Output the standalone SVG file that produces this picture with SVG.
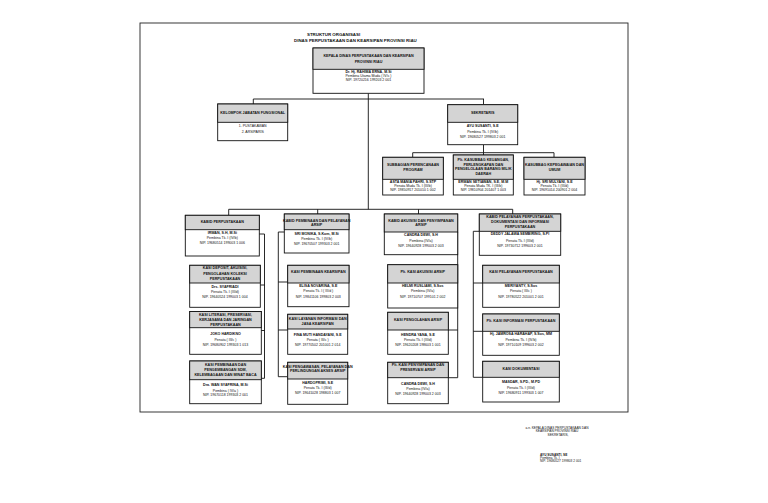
<svg xmlns="http://www.w3.org/2000/svg" width="768" height="503" viewBox="0 0 768 503">
<style>
.bg{fill:#fff}
.frame{fill:none;stroke:#222;stroke-width:0.9}
.box{fill:#fff;stroke:#111;stroke-width:0.9}
.hd{fill:#d4d4d4;stroke:#111;stroke-width:0.9}
.ln{fill:none;stroke:#111;stroke-width:0.9}
text{font-family:"Liberation Sans",Arial,sans-serif;fill:#111;text-anchor:middle}
.h{font-size:3.7px;font-weight:bold}
.n{font-size:3.6px;font-weight:bold}
.b{font-size:3.5px}
.title{font-size:4.4px;font-weight:bold;text-anchor:start}
.sig{font-size:3.2px}
.sigl{font-size:3.2px;text-anchor:start}
</style>
<rect class="bg" width="768" height="503"/>
<rect class="frame" x="140" y="23" width="488" height="389"/>
<g id="title">
<text class="title" x="307" y="35.5">STRUKTUR ORGANISASI</text>
<text class="title" x="294" y="42">DINAS PERPUSTAKAAN DAN KEARSIPAN  PROVINSI RIAU</text>
</g>
<g id="connectors">
<path class="ln" d="M368.3 93.3V209.3M253.3 99H484M253.3 99V104M483.5 99V104.7M483.5 144.7V152.7M412.7 152.7H554M412.7 152.7V157.3M483.5 152.7V155M554 152.7V157.3"/>
<path class="ln" d="M228.7 209.3H512.7M228.7 209.3V215.3M317.7 209.3V214M418.5 209.3V214M512.7 209.3V214"/>
<path class="ln" d="M256 234H264.5V378.3H258M257 285H264.5M258 330.5H264.5"/>
<path class="ln" d="M288 232H278.3V376.7H291M278.3 282H291M278.3 330H291"/>
<path class="ln" d="M454 232H457.7V377.7H445M445 330H457.7M454 283H457.7"/>
<path class="ln" d="M482.7 231.3H473.3V377.3H486M473.3 283H486M473.3 331.3H486"/>
</g>
<g id="kepala">
<rect class="box" x="313" y="48" width="111" height="45.3"/>
<rect class="hd" x="313" y="48" width="111" height="21.3"/>
<text class="h" x="368.5" y="57.4">KEPALA DINAS PERPUSTAKAAN DAN KEARSIPAN</text>
<text class="h" x="368.5" y="62.9">PROVINSI RIAU</text>
<text class="n" x="368.5" y="72.7">Dr. Hj. RAHIMA ERNA, M.Si</text>
<text class="b" x="368.5" y="77">Pembina Utama Muda ( IV/c )</text>
<text class="b" x="368.5" y="81.2">NIP. 19720216 199203 2 001</text>
</g>
<g id="kelompok">
<rect class="box" x="217.7" y="104" width="70" height="36.7"/>
<rect class="hd" x="217.7" y="104" width="70" height="18.3"/>
<text class="h" x="252.7" y="113.6">KELOMPOK JABATAN FUNGSIONAL</text>
<text class="b" x="252.7" y="127.3">1. PUSTAKAWAN</text>
<text class="b" x="252.7" y="132.6">2. ARSIPARIS</text>
</g>
<g id="sekretaris">
<rect class="box" x="447.7" y="104.7" width="70" height="40"/>
<rect class="hd" x="447.7" y="104.7" width="70" height="17.6"/>
<text class="h" x="482.7" y="113.6">SEKRETARIS</text>
<text class="n" x="482.7" y="127.3">AYU SUSANTI, S.E</text>
<text class="b" x="482.7" y="132.6">Pembina Tk. I (IV/b)</text>
<text class="b" x="482.7" y="138">NIP. 19680527 199803 2 001</text>
</g>
<g id="subbag-program">
<rect class="box" x="382.7" y="157.3" width="60.6" height="37.7"/>
<rect class="hd" x="382.7" y="157.3" width="60.6" height="22"/>
<text class="h" x="413" y="166.3">SUBBAGIAN PERENCANAAN</text>
<text class="h" x="413" y="170.6">PROGRAM</text>
<text class="n" x="413" y="182.6">ASTA MANIA PAHRI, S.STP</text>
<text class="b" x="413" y="187">Penata Muda Tk. I (III/b)</text>
<text class="b" x="413" y="191.3">NIP. 19850917 201010 1 002</text>
</g>
<g id="subbag-keuangan">
<rect class="box" x="453.3" y="155" width="60" height="40"/>
<rect class="hd" x="453.3" y="155" width="60" height="24.3"/>
<text class="h" x="483.3" y="161.3">Plt. KASUBBAG KEUANGAN,</text>
<text class="h" x="483.3" y="165.6">PERLENGKAPAN DAN</text>
<text class="h" x="483.3" y="169.8">PENGELOLAAN BARANG MILIK</text>
<text class="h" x="483.3" y="174.6">DAERAH</text>
<text class="n" x="483.3" y="182.6">ERWAN SETIAWAN, S.E, M.M</text>
<text class="b" x="483.3" y="187">Penata Muda TK. I (III/b)</text>
<text class="b" x="483.3" y="191.3">NIP. 19810904 201407 1 003</text>
</g>
<g id="subbag-umum">
<rect class="box" x="524" y="157.3" width="61" height="37.7"/>
<rect class="hd" x="524" y="157.3" width="61" height="22"/>
<text class="h" x="554.5" y="166.3">KASUBBAG KEPEGAWAIAN DAN</text>
<text class="h" x="554.5" y="170.6">UMUM</text>
<text class="n" x="554.5" y="182.6">Hj. SRI MULYANI, S.E</text>
<text class="b" x="554.5" y="187">Penata Tk. I (III/d)</text>
<text class="b" x="554.5" y="191.3">NIP. 19691014 200901 2 004</text>
</g>
<g id="kabid-perpustakaan">
<rect class="box" x="185.3" y="215.3" width="74" height="40.7"/>
<rect class="hd" x="185.3" y="215.3" width="74" height="14.4"/>
<text class="h" x="222.3" y="223.3">KABID PERPUSTAKAAN</text>
<text class="n" x="222.3" y="234.3">IRWAN, S.H, M.Si</text>
<text class="b" x="222.3" y="239">Pembina Tk. I (IV/b)</text>
<text class="b" x="222.3" y="243.6">NIP. 19680514 199003 1 006</text>
</g>
<g id="kasi-deposit">
<rect class="box" x="189.7" y="265.3" width="70.6" height="42"/>
<rect class="hd" x="189.7" y="265.3" width="70.6" height="17.7"/>
<text class="h" x="225" y="269.3">KASI DEPOSIT, AKUISISI,</text>
<text class="h" x="225" y="274.6">PENGOLAHAN KOLEKSI</text>
<text class="h" x="225" y="280">PERPUSTAKAAN</text>
<text class="n" x="225" y="288">Drs. SYAFRIADI</text>
<text class="b" x="225" y="293.3">Penata Tk. I (III/d)</text>
<text class="b" x="225" y="298.3">NIP. 19640524 199003 1 004</text>
</g>
<g id="kasi-literasi">
<rect class="box" x="189.7" y="311.5" width="71.6" height="42.8"/>
<rect class="hd" x="189.7" y="311.5" width="71.6" height="16.2"/>
<text class="h" x="225.5" y="316">KASI LITERASI, PRESERVASI,</text>
<text class="h" x="225.5" y="321.3">KERJASAMA DAN JARINGAN</text>
<text class="h" x="225.5" y="326.3">PERPUSTAKAAN</text>
<text class="n" x="225.5" y="335">JOKO HARDIKNO</text>
<text class="b" x="225.5" y="340.6">Penata ( III/c )</text>
<text class="b" x="225.5" y="345.6">NIP. 19680902 199303 1 013</text>
</g>
<g id="kasi-pembinaan-sdm">
<rect class="box" x="189.7" y="361" width="71.6" height="42.7"/>
<rect class="hd" x="189.7" y="361" width="71.6" height="18.7"/>
<text class="h" x="225.5" y="365.6">KASI PEMBINAAN DAN</text>
<text class="h" x="225.5" y="371.3">PENGEMBANGAN SDM,</text>
<text class="h" x="225.5" y="376.3">KELEMBAGAAN DAN MINAT BACA</text>
<text class="n" x="225.5" y="386.3">Dra. WAN SYAFRINA, M.Si</text>
<text class="b" x="225.5" y="391.6">Pembina ( IV/a )</text>
<text class="b" x="225.5" y="396.3">NIP. 19670118 199303 2 001</text>
</g>
<g id="kabid-arsip">
<rect class="box" x="284.3" y="214" width="64.7" height="39"/>
<rect class="hd" x="284.3" y="214" width="64.7" height="15.7"/>
<text class="h" x="316.7" y="221.6">KABID PEMBINAAN DAN PELAYANAN</text>
<text class="h" x="316.7" y="226">ARSIP</text>
<text class="n" x="316.7" y="235">SRI MONIKA, S.Kom, M.Si</text>
<text class="b" x="316.7" y="240">Pembina Tk. I (IV/b)</text>
<text class="b" x="316.7" y="245">NIP. 19670507 199303 2 001</text>
</g>
<g id="kasi-pembinaan-kearsipan">
<rect class="box" x="287.7" y="265.3" width="61.3" height="41.4"/>
<rect class="hd" x="287.7" y="265.3" width="61.3" height="17.7"/>
<text class="h" x="318.3" y="272.6">KASI PEMBINAAN KEARSIPAN</text>
<text class="n" x="318.3" y="287.3">ELISA NOVARINA, S.E</text>
<text class="b" x="318.3" y="292.3">Penata Tk. I ( III/d )</text>
<text class="b" x="318.3" y="297.6">NIP. 19841106 199803 2 003</text>
</g>
<g id="kasi-layanan-informasi">
<rect class="box" x="287.7" y="314.3" width="60" height="40"/>
<rect class="hd" x="287.7" y="314.3" width="60" height="14.7"/>
<text class="h" x="317.7" y="319.6">KASI LAYANAN INFORMASI DAN</text>
<text class="h" x="317.7" y="324.6">JASA KEARSIPAN</text>
<text class="n" x="317.7" y="335.6">FINA MUTI HANDAYANI, S.E</text>
<text class="b" x="317.7" y="340.6">Penata ( III/c )</text>
<text class="b" x="317.7" y="345.6">NIP. 19770502 201001 2 014</text>
</g>
<g id="kasi-perlindungan">
<rect class="box" x="287.7" y="362.3" width="60" height="42"/>
<rect class="hd" x="287.7" y="362.3" width="60" height="16.7"/>
<text class="h" x="317.7" y="367.5">KASI PENGAWASAN, PELAYANAN DAN</text>
<text class="h" x="317.7" y="372.3">PERLINDUNGAN AKSES ARSIP</text>
<text class="n" x="317.7" y="383.8">HARDOPRIMI, S.E</text>
<text class="b" x="317.7" y="388.8">Penata Tk. I (III/d)</text>
<text class="b" x="317.7" y="393.8">NIP. 19641028 198803 1 007</text>
</g>
<g id="kabid-akuisisi">
<rect class="box" x="384.3" y="214" width="73.4" height="40.7"/>
<rect class="hd" x="384.3" y="214" width="73.4" height="18"/>
<text class="h" x="421" y="221.6">KABID AKUISISI DAN PENYIMPANAN</text>
<text class="h" x="421" y="226">ARSIP</text>
<text class="n" x="421" y="236.3">CANDRA DEWI, S.H</text>
<text class="b" x="421" y="241.6">Pembina (IV/a)</text>
<text class="b" x="421" y="246.8">NIP. 19640928 199003 2 003</text>
</g>
<g id="kasi-akuisisi">
<rect class="box" x="387.7" y="264.7" width="70" height="43.3"/>
<rect class="hd" x="387.7" y="264.7" width="70" height="18.3"/>
<text class="h" x="422.7" y="273.3">Plt. KASI AKUISISI ARSIP</text>
<text class="n" x="422.7" y="287">HELMI RUSLIAMI, S.Sos</text>
<text class="b" x="422.7" y="292.3">Pembina (IV/a)</text>
<text class="b" x="422.7" y="297.8">NIP. 19710707 199101 2 002</text>
</g>
<g id="kasi-pengolahan">
<rect class="box" x="387.7" y="312.3" width="60.6" height="42"/>
<rect class="hd" x="387.7" y="312.3" width="60.6" height="17.7"/>
<text class="h" x="418" y="321.3">KASI PENGOLAHAN ARSIP</text>
<text class="n" x="418" y="335.6">HENDRA YANA, S.E</text>
<text class="b" x="418" y="340.6">Penata Tk. I (III/d)</text>
<text class="b" x="418" y="345.6">NIP. 19620208 198603 1 001</text>
</g>
<g id="kasi-penyimpanan">
<rect class="box" x="387.7" y="362.3" width="60.6" height="41.4"/>
<rect class="hd" x="387.7" y="362.3" width="60.6" height="15.4"/>
<text class="h" x="418" y="366.3">Plt. KASI PENYIMPANAN DAN</text>
<text class="h" x="418" y="371.3">PRESERVASI ARSIP</text>
<text class="n" x="418" y="384.6">CANDRA DEWI, S.H</text>
<text class="b" x="418" y="389.8">Pembina (IV/a)</text>
<text class="b" x="418" y="395">NIP. 19640928 199003 2 003</text>
</g>
<g id="kabid-pelayanan">
<rect class="box" x="479.3" y="214" width="81.4" height="41.3"/>
<rect class="hd" x="479.3" y="214" width="81.4" height="17.3"/>
<text class="h" x="520" y="218.3">KABID PELAYANAN PERPUSTAKAAN,</text>
<text class="h" x="520" y="222.8">DOKUMENTASI DAN INFORMASI</text>
<text class="h" x="520" y="227.5">PERPUSTAKAAN</text>
<text class="n" x="520" y="234.8">DEDDY JALAWA SEMBIRING, S.PI</text>
<text class="b" x="520" y="241.8">Penata Tk. I (III/d)</text>
<text class="b" x="520" y="246.8">NIP. 19730712 199603 2 001</text>
</g>
<g id="kasi-pelayanan">
<rect class="box" x="482.7" y="265.3" width="76.6" height="42"/>
<rect class="hd" x="482.7" y="265.3" width="76.6" height="17.7"/>
<text class="h" x="521" y="273.3">KASI PELAYANAN PERPUSTAKAAN</text>
<text class="n" x="521" y="286.8">MERIYANTY, S.Sos</text>
<text class="b" x="521" y="292.3">Penata ( III/c )</text>
<text class="b" x="521" y="297.8">NIP. 19780522 201001 2 001</text>
</g>
<g id="kasi-informasi">
<rect class="box" x="482.7" y="314" width="76.6" height="41.3"/>
<rect class="hd" x="482.7" y="314" width="76.6" height="17.3"/>
<text class="h" x="521" y="322">Plt. KASI INFORMASI PERPUSTAKAAN</text>
<text class="n" x="521" y="335.3">Hj. JAMROSA HARAHAP, S.Sos, MM</text>
<text class="b" x="521" y="340.8">Pembina Tk. I (IV/b)</text>
<text class="b" x="521" y="346">NIP. 19710109 199603 2 002</text>
</g>
<g id="kasi-dokumentasi">
<rect class="box" x="482.7" y="361.3" width="76.6" height="40.7"/>
<rect class="hd" x="482.7" y="361.3" width="76.6" height="16"/>
<text class="h" x="521" y="370">KASI DOKUMENTASI</text>
<text class="n" x="521" y="383.3">MASDAR, S.PD., M.PD</text>
<text class="b" x="521" y="389">Penata Tk. I (III/d)</text>
<text class="b" x="521" y="394.3">NIP. 19680911 199303 1 007</text>
</g>
<g id="signature">
<text class="sig" x="557" y="428.8">a.n. KEPALA DINAS PERPUSTAKAAN DAN</text>
<text class="sig" x="557" y="432.2">KEARSIPAN PROVINSI RIAU</text>
<text class="sig" x="558" y="435.6">SEKRETARIS,</text>
<text class="sigl" x="540" y="455.5" font-weight="bold">AYU SUSANTI, SE</text>
<text class="sigl" x="540" y="458.9">Pembina Tk. I</text>
<text class="sigl" x="540" y="462.2">NIP. 19680527 199803 2 001</text>
</g>
</svg>
